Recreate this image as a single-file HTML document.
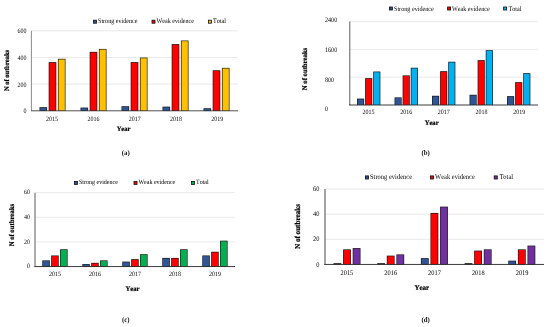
<!DOCTYPE html>
<html lang="en"><head><meta charset="utf-8"><title>Outbreaks by year</title>
<style>
html,body{margin:0;padding:0;background:#fff;}
body{width:550px;height:327px;overflow:hidden;}
svg{display:block;}
svg text{font-family:"Liberation Serif", "Times New Roman", serif;fill:#000;font-kerning:none;text-rendering:geometricPrecision;}
svg text.c{font-weight:bold;fill:#111;}
svg text.b{font-weight:bold;fill:#000;stroke:#000;stroke-width:0.22px;}
</style></head><body>
<svg width="550" height="327" viewBox="0 0 550 327">
<rect width="550" height="327" fill="#ffffff"/>
<g id="chart-a">
<line x1="31.4" y1="84.13" x2="238" y2="84.13" stroke="#d9d9d9" stroke-width="0.6"/>
<line x1="31.4" y1="57.47" x2="238" y2="57.47" stroke="#d9d9d9" stroke-width="0.6"/>
<line x1="31.4" y1="30.8" x2="238" y2="30.8" stroke="#d9d9d9" stroke-width="0.6"/>
<rect x="39.5" y="107.2" width="7.6" height="3.6" fill="#141414"/>
<rect x="40.15" y="107.85" width="6.3" height="2.95" fill="#2f5597"/>
<rect x="48.7" y="62.13" width="7.6" height="48.67" fill="#141414"/>
<rect x="49.35" y="62.78" width="6.3" height="48.02" fill="#ff0000"/>
<rect x="57.9" y="58.8" width="7.6" height="52" fill="#141414"/>
<rect x="58.55" y="59.45" width="6.3" height="51.35" fill="#ffc000"/>
<rect x="80.5" y="107.6" width="7.6" height="3.2" fill="#141414"/>
<rect x="81.15" y="108.25" width="6.3" height="2.55" fill="#2f5597"/>
<rect x="89.7" y="51.87" width="7.6" height="58.93" fill="#141414"/>
<rect x="90.35" y="52.52" width="6.3" height="58.28" fill="#ff0000"/>
<rect x="98.9" y="48.93" width="7.6" height="61.87" fill="#141414"/>
<rect x="99.55" y="49.58" width="6.3" height="61.22" fill="#ffc000"/>
<rect x="121.5" y="106.27" width="7.6" height="4.53" fill="#141414"/>
<rect x="122.15" y="106.92" width="6.3" height="3.88" fill="#2f5597"/>
<rect x="130.7" y="62.13" width="7.6" height="48.67" fill="#141414"/>
<rect x="131.35" y="62.78" width="6.3" height="48.02" fill="#ff0000"/>
<rect x="139.9" y="57.6" width="7.6" height="53.2" fill="#141414"/>
<rect x="140.55" y="58.25" width="6.3" height="52.55" fill="#ffc000"/>
<rect x="162.5" y="106.67" width="7.6" height="4.13" fill="#141414"/>
<rect x="163.15" y="107.32" width="6.3" height="3.48" fill="#2f5597"/>
<rect x="171.7" y="44.13" width="7.6" height="66.67" fill="#141414"/>
<rect x="172.35" y="44.78" width="6.3" height="66.02" fill="#ff0000"/>
<rect x="180.9" y="40.53" width="7.6" height="70.27" fill="#141414"/>
<rect x="181.55" y="41.18" width="6.3" height="69.62" fill="#ffc000"/>
<rect x="203.5" y="108.27" width="7.6" height="2.53" fill="#141414"/>
<rect x="204.15" y="108.92" width="6.3" height="1.88" fill="#2f5597"/>
<rect x="212.7" y="70.27" width="7.6" height="40.53" fill="#141414"/>
<rect x="213.35" y="70.92" width="6.3" height="39.88" fill="#ff0000"/>
<rect x="221.9" y="67.87" width="7.6" height="42.93" fill="#141414"/>
<rect x="222.55" y="68.52" width="6.3" height="42.28" fill="#ffc000"/>
<line x1="31.4" y1="30.8" x2="31.4" y2="110.8" stroke="#595959" stroke-width="0.7"/>
<line x1="31.05" y1="110.8" x2="238" y2="110.8" stroke="#262626" stroke-width="0.8"/>
<text transform="translate(52.06,120.8) scale(1,1.1)" font-size="6.0" text-anchor="middle">2015</text>
<text transform="translate(93.38,120.8) scale(1,1.1)" font-size="6.0" text-anchor="middle">2016</text>
<text transform="translate(134.7,120.8) scale(1,1.1)" font-size="6.0" text-anchor="middle">2017</text>
<text transform="translate(176.02,120.8) scale(1,1.1)" font-size="6.0" text-anchor="middle">2018</text>
<text transform="translate(217.34,120.8) scale(1,1.1)" font-size="6.0" text-anchor="middle">2019</text>
<text transform="translate(26.4,113.28) scale(1,1.1)" font-size="6.0" text-anchor="end">0</text>
<text transform="translate(26.4,86.61) scale(1,1.1)" font-size="6.0" text-anchor="end">200</text>
<text transform="translate(26.4,59.94) scale(1,1.1)" font-size="6.0" text-anchor="end">400</text>
<text transform="translate(26.4,33.28) scale(1,1.1)" font-size="6.0" text-anchor="end">600</text>
<rect x="93.5" y="20.2" width="3.0" height="3.0" fill="#2f5597" stroke="#0d0d0d" stroke-width="0.8"/>
<text transform="translate(98,23.3) scale(1,1.1)" font-size="6.1">Strong evidence</text>
<rect x="152" y="20.2" width="3.0" height="3.0" fill="#ff0000" stroke="#0d0d0d" stroke-width="0.8"/>
<text transform="translate(156.6,23.3) scale(1,1.1)" font-size="6.1">Weak evidence</text>
<rect x="208.4" y="20.2" width="3.0" height="3.0" fill="#ffc000" stroke="#0d0d0d" stroke-width="0.8"/>
<text transform="translate(213,23.3) scale(1,1.1)" font-size="6.1">Total</text>
<text transform="translate(123.5,130.9) scale(1,1.06)" font-size="6.5" class="b" text-anchor="middle">Year</text>
<text transform="translate(125.7,154.8) scale(1,1.06)" font-size="6.8" class="c" text-anchor="middle">(a)</text>
<text transform="translate(9.3,70.5) rotate(-90) scale(1,1.06)" font-size="6.5" class="b" text-anchor="middle">N of outbreaks</text>
</g>
<g id="chart-b">
<line x1="349.7" y1="77.2" x2="538" y2="77.2" stroke="#d9d9d9" stroke-width="0.6"/>
<line x1="349.7" y1="49.4" x2="538" y2="49.4" stroke="#d9d9d9" stroke-width="0.6"/>
<line x1="349.7" y1="21.6" x2="538" y2="21.6" stroke="#d9d9d9" stroke-width="0.6"/>
<rect x="357.05" y="98.61" width="7.1" height="6.39" fill="#141414"/>
<rect x="357.7" y="99.26" width="5.8" height="5.74" fill="#2f5597"/>
<rect x="365.15" y="78.17" width="7.1" height="26.83" fill="#141414"/>
<rect x="365.8" y="78.82" width="5.8" height="26.18" fill="#ff0000"/>
<rect x="373.25" y="71.57" width="7.1" height="33.43" fill="#141414"/>
<rect x="373.9" y="72.22" width="5.8" height="32.78" fill="#00b0f0"/>
<rect x="394.55" y="97.39" width="7.1" height="7.61" fill="#141414"/>
<rect x="395.2" y="98.04" width="5.8" height="6.96" fill="#2f5597"/>
<rect x="402.65" y="75.39" width="7.1" height="29.61" fill="#141414"/>
<rect x="403.3" y="76.04" width="5.8" height="28.96" fill="#ff0000"/>
<rect x="410.75" y="67.75" width="7.1" height="37.25" fill="#141414"/>
<rect x="411.4" y="68.4" width="5.8" height="36.6" fill="#00b0f0"/>
<rect x="432.05" y="95.79" width="7.1" height="9.21" fill="#141414"/>
<rect x="432.7" y="96.44" width="5.8" height="8.56" fill="#2f5597"/>
<rect x="440.15" y="71.19" width="7.1" height="33.81" fill="#141414"/>
<rect x="440.8" y="71.84" width="5.8" height="33.16" fill="#ff0000"/>
<rect x="448.25" y="61.77" width="7.1" height="43.23" fill="#141414"/>
<rect x="448.9" y="62.42" width="5.8" height="42.58" fill="#00b0f0"/>
<rect x="469.55" y="94.78" width="7.1" height="10.22" fill="#141414"/>
<rect x="470.2" y="95.43" width="5.8" height="9.57" fill="#2f5597"/>
<rect x="477.65" y="60.17" width="7.1" height="44.83" fill="#141414"/>
<rect x="478.3" y="60.82" width="5.8" height="44.18" fill="#ff0000"/>
<rect x="485.75" y="50.2" width="7.1" height="54.8" fill="#141414"/>
<rect x="486.4" y="50.85" width="5.8" height="54.15" fill="#00b0f0"/>
<rect x="507.05" y="96.17" width="7.1" height="8.83" fill="#141414"/>
<rect x="507.7" y="96.82" width="5.8" height="8.18" fill="#2f5597"/>
<rect x="515.15" y="82.17" width="7.1" height="22.83" fill="#141414"/>
<rect x="515.8" y="82.82" width="5.8" height="22.18" fill="#ff0000"/>
<rect x="523.25" y="73.17" width="7.1" height="31.83" fill="#141414"/>
<rect x="523.9" y="73.82" width="5.8" height="31.18" fill="#00b0f0"/>
<line x1="349.7" y1="21.6" x2="349.7" y2="105" stroke="#8c8c8c" stroke-width="1.4"/>
<line x1="349" y1="105" x2="538" y2="105" stroke="#262626" stroke-width="0.9"/>
<text transform="translate(368.53,114.25) scale(1,1.1)" font-size="6.0" text-anchor="middle">2015</text>
<text transform="translate(406.19,114.25) scale(1,1.1)" font-size="6.0" text-anchor="middle">2016</text>
<text transform="translate(443.85,114.25) scale(1,1.1)" font-size="6.0" text-anchor="middle">2017</text>
<text transform="translate(481.51,114.25) scale(1,1.1)" font-size="6.0" text-anchor="middle">2018</text>
<text transform="translate(519.17,114.25) scale(1,1.1)" font-size="6.0" text-anchor="middle">2019</text>
<text transform="translate(325,110.51) scale(1,1.1)" font-size="6.1">0</text>
<text transform="translate(325,81.51) scale(1,1.1)" font-size="6.1">800</text>
<text transform="translate(325,51.91) scale(1,1.1)" font-size="6.1">1600</text>
<text transform="translate(325,22.11) scale(1,1.1)" font-size="6.1">2400</text>
<rect x="389.4" y="7" width="3.0" height="3.0" fill="#2f5597" stroke="#0d0d0d" stroke-width="0.8"/>
<text transform="translate(394,10.55) scale(1,1.1)" font-size="6.15">Strong evidence</text>
<rect x="447.6" y="7" width="3.0" height="3.0" fill="#ff0000" stroke="#0d0d0d" stroke-width="0.8"/>
<text transform="translate(452,10.55) scale(1,1.1)" font-size="6.15">Weak evidence</text>
<rect x="503.6" y="7" width="3.0" height="3.0" fill="#00b0f0" stroke="#0d0d0d" stroke-width="0.8"/>
<text transform="translate(508.4,10.55) scale(1,1.1)" font-size="6.15">Total</text>
<text transform="translate(431.6,124.9) scale(1,1.06)" font-size="6.6" class="b" text-anchor="middle">Year</text>
<text transform="translate(425.7,154.8) scale(1,1.06)" font-size="6.8" class="c" text-anchor="middle">(b)</text>
<text transform="translate(307,69) rotate(-90) scale(1,1.06)" font-size="6.7" class="b" text-anchor="middle">N of outbreaks</text>
</g>
<g id="chart-c">
<line x1="35" y1="241.92" x2="235" y2="241.92" stroke="#e6e6e6" stroke-width="0.9"/>
<line x1="35" y1="217.29" x2="235" y2="217.29" stroke="#e6e6e6" stroke-width="0.9"/>
<line x1="35" y1="192.66" x2="235" y2="192.66" stroke="#e6e6e6" stroke-width="0.9"/>
<rect x="42.3" y="260.39" width="7.5" height="6.16" fill="#141414"/>
<rect x="42.95" y="261.04" width="6.2" height="5.51" fill="#2f5597"/>
<rect x="51.2" y="255.47" width="7.5" height="11.08" fill="#141414"/>
<rect x="51.85" y="256.12" width="6.2" height="10.43" fill="#ff0000"/>
<rect x="60.1" y="249.31" width="7.5" height="17.24" fill="#141414"/>
<rect x="60.75" y="249.96" width="6.2" height="16.59" fill="#00b050"/>
<rect x="82.3" y="264.09" width="7.5" height="2.46" fill="#141414"/>
<rect x="82.95" y="264.74" width="6.2" height="1.81" fill="#2f5597"/>
<rect x="91.2" y="262.86" width="7.5" height="3.69" fill="#141414"/>
<rect x="91.85" y="263.51" width="6.2" height="3.04" fill="#ff0000"/>
<rect x="100.1" y="260.39" width="7.5" height="6.16" fill="#141414"/>
<rect x="100.75" y="261.04" width="6.2" height="5.51" fill="#00b050"/>
<rect x="122.3" y="261.62" width="7.5" height="4.93" fill="#141414"/>
<rect x="122.95" y="262.27" width="6.2" height="4.28" fill="#2f5597"/>
<rect x="131.2" y="259.16" width="7.5" height="7.39" fill="#141414"/>
<rect x="131.85" y="259.81" width="6.2" height="6.74" fill="#ff0000"/>
<rect x="140.1" y="254.24" width="7.5" height="12.32" fill="#141414"/>
<rect x="140.75" y="254.89" width="6.2" height="11.67" fill="#00b050"/>
<rect x="162.3" y="257.93" width="7.5" height="8.62" fill="#141414"/>
<rect x="162.95" y="258.58" width="6.2" height="7.97" fill="#2f5597"/>
<rect x="171.2" y="257.93" width="7.5" height="8.62" fill="#141414"/>
<rect x="171.85" y="258.58" width="6.2" height="7.97" fill="#ff0000"/>
<rect x="180.1" y="249.31" width="7.5" height="17.24" fill="#141414"/>
<rect x="180.75" y="249.96" width="6.2" height="16.59" fill="#00b050"/>
<rect x="202.3" y="255.47" width="7.5" height="11.08" fill="#141414"/>
<rect x="202.95" y="256.12" width="6.2" height="10.43" fill="#2f5597"/>
<rect x="211.2" y="251.77" width="7.5" height="14.78" fill="#141414"/>
<rect x="211.85" y="252.42" width="6.2" height="14.13" fill="#ff0000"/>
<rect x="220.1" y="240.69" width="7.5" height="25.86" fill="#141414"/>
<rect x="220.75" y="241.34" width="6.2" height="25.21" fill="#00b050"/>
<line x1="35" y1="192.66" x2="35" y2="266.55" stroke="#8a8a8a" stroke-width="1.4"/>
<line x1="34.3" y1="266.55" x2="235" y2="266.55" stroke="#262626" stroke-width="0.9"/>
<text transform="translate(55,275.8) scale(1,1.1)" font-size="6.0" text-anchor="middle">2015</text>
<text transform="translate(95,275.8) scale(1,1.1)" font-size="6.0" text-anchor="middle">2016</text>
<text transform="translate(135,275.8) scale(1,1.1)" font-size="6.0" text-anchor="middle">2017</text>
<text transform="translate(175,275.8) scale(1,1.1)" font-size="6.0" text-anchor="middle">2018</text>
<text transform="translate(215,275.8) scale(1,1.1)" font-size="6.0" text-anchor="middle">2019</text>
<text transform="translate(30,268.33) scale(1,1.1)" font-size="6.0" text-anchor="end">0</text>
<text transform="translate(30,243.7) scale(1,1.1)" font-size="6.0" text-anchor="end">20</text>
<text transform="translate(30,219.07) scale(1,1.1)" font-size="6.0" text-anchor="end">40</text>
<text transform="translate(30,194.44) scale(1,1.1)" font-size="6.0" text-anchor="end">60</text>
<rect x="74.4" y="181.4" width="3.0" height="3.0" fill="#2f5597" stroke="#0d0d0d" stroke-width="0.8"/>
<text transform="translate(79,184.3) scale(1,1.1)" font-size="6.0">Strong evidence</text>
<rect x="134" y="181.4" width="3.0" height="3.0" fill="#ff0000" stroke="#0d0d0d" stroke-width="0.8"/>
<text transform="translate(138.4,184.3) scale(1,1.1)" font-size="6.0">Weak evidence</text>
<rect x="191.4" y="181.4" width="3.0" height="3.0" fill="#00b050" stroke="#0d0d0d" stroke-width="0.8"/>
<text transform="translate(196,184.3) scale(1,1.1)" font-size="6.0">Total</text>
<text transform="translate(132.4,291) scale(1,1.06)" font-size="6.6" class="b" text-anchor="middle">Year</text>
<text transform="translate(125.7,322.3) scale(1,1.06)" font-size="6.8" class="c" text-anchor="middle">(c)</text>
<text transform="translate(14,225.2) rotate(-90) scale(1,1.06)" font-size="6.7" class="b" text-anchor="middle">N of outbreaks</text>
</g>
<g id="chart-d">
<line x1="325" y1="239.32" x2="544" y2="239.32" stroke="#d9d9d9" stroke-width="0.6"/>
<line x1="325" y1="214.19" x2="544" y2="214.19" stroke="#d9d9d9" stroke-width="0.6"/>
<line x1="325" y1="189.06" x2="544" y2="189.06" stroke="#d9d9d9" stroke-width="0.6"/>
<rect x="333.5" y="263.19" width="7.8" height="1.26" fill="#141414"/>
<rect x="343.1" y="249.37" width="7.8" height="15.08" fill="#141414"/>
<rect x="343.75" y="250.02" width="6.5" height="14.43" fill="#ff0000"/>
<rect x="352.7" y="248.12" width="7.8" height="16.33" fill="#141414"/>
<rect x="353.35" y="248.77" width="6.5" height="15.68" fill="#7030a0"/>
<rect x="377.2" y="263.19" width="7.8" height="1.26" fill="#141414"/>
<rect x="386.8" y="255.65" width="7.8" height="8.8" fill="#141414"/>
<rect x="387.45" y="256.3" width="6.5" height="8.15" fill="#ff0000"/>
<rect x="396.4" y="254.4" width="7.8" height="10.05" fill="#141414"/>
<rect x="397.05" y="255.05" width="6.5" height="9.4" fill="#7030a0"/>
<rect x="420.9" y="258.17" width="7.8" height="6.28" fill="#141414"/>
<rect x="421.55" y="258.82" width="6.5" height="5.63" fill="#2f5597"/>
<rect x="430.5" y="212.93" width="7.8" height="51.52" fill="#141414"/>
<rect x="431.15" y="213.58" width="6.5" height="50.87" fill="#ff0000"/>
<rect x="440.1" y="206.65" width="7.8" height="57.8" fill="#141414"/>
<rect x="440.75" y="207.3" width="6.5" height="57.15" fill="#7030a0"/>
<rect x="464.6" y="263.19" width="7.8" height="1.26" fill="#141414"/>
<rect x="474.2" y="250.63" width="7.8" height="13.82" fill="#141414"/>
<rect x="474.85" y="251.28" width="6.5" height="13.17" fill="#ff0000"/>
<rect x="483.8" y="249.37" width="7.8" height="15.08" fill="#141414"/>
<rect x="484.45" y="250.02" width="6.5" height="14.43" fill="#7030a0"/>
<rect x="508.3" y="260.68" width="7.8" height="3.77" fill="#141414"/>
<rect x="508.95" y="261.33" width="6.5" height="3.12" fill="#2f5597"/>
<rect x="517.9" y="249.37" width="7.8" height="15.08" fill="#141414"/>
<rect x="518.55" y="250.02" width="6.5" height="14.43" fill="#ff0000"/>
<rect x="527.5" y="245.6" width="7.8" height="18.85" fill="#141414"/>
<rect x="528.15" y="246.25" width="6.5" height="18.2" fill="#7030a0"/>
<line x1="325" y1="189.06" x2="325" y2="264.45" stroke="#858585" stroke-width="1.5"/>
<line x1="324.25" y1="264.45" x2="544" y2="264.45" stroke="#262626" stroke-width="0.9"/>
<text transform="translate(346.9,274.5) scale(1,1.1)" font-size="6.4" text-anchor="middle">2015</text>
<text transform="translate(390.7,274.5) scale(1,1.1)" font-size="6.4" text-anchor="middle">2016</text>
<text transform="translate(434.5,274.5) scale(1,1.1)" font-size="6.4" text-anchor="middle">2017</text>
<text transform="translate(478.3,274.5) scale(1,1.1)" font-size="6.4" text-anchor="middle">2018</text>
<text transform="translate(522.1,274.5) scale(1,1.1)" font-size="6.4" text-anchor="middle">2019</text>
<text transform="translate(319.5,266.57) scale(1,1.1)" font-size="6.4" text-anchor="end">0</text>
<text transform="translate(319.5,241.44) scale(1,1.1)" font-size="6.4" text-anchor="end">20</text>
<text transform="translate(319.5,216.31) scale(1,1.1)" font-size="6.4" text-anchor="end">40</text>
<text transform="translate(319.5,191.18) scale(1,1.1)" font-size="6.4" text-anchor="end">60</text>
<rect x="365.4" y="175.9" width="3.1" height="3.1" fill="#2f5597" stroke="#0d0d0d" stroke-width="0.8"/>
<text transform="translate(370,178.8) scale(1,1.1)" font-size="6.5">Strong evidence</text>
<rect x="430.4" y="175.9" width="3.1" height="3.1" fill="#ff0000" stroke="#0d0d0d" stroke-width="0.8"/>
<text transform="translate(435,178.8) scale(1,1.1)" font-size="6.5">Weak evidence</text>
<rect x="494.2" y="175.9" width="3.1" height="3.1" fill="#7030a0" stroke="#0d0d0d" stroke-width="0.8"/>
<text transform="translate(499.4,178.8) scale(1,1.1)" font-size="6.5">Total</text>
<text transform="translate(421.8,290) scale(1,1.06)" font-size="7.0" class="b" text-anchor="middle">Year</text>
<text transform="translate(425.7,322.3) scale(1,1.06)" font-size="6.8" class="c" text-anchor="middle">(d)</text>
<text transform="translate(300,226.5) rotate(-90) scale(1,1.06)" font-size="7.1" class="b" text-anchor="middle">N of outbreaks</text>
</g>
</svg>
</body></html>
